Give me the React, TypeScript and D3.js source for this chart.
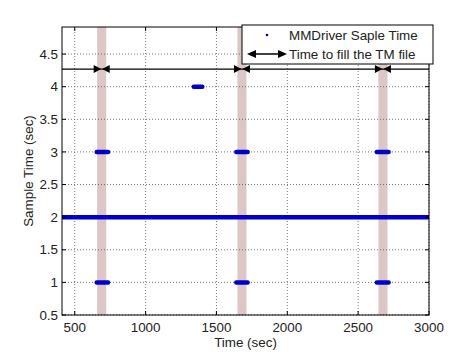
import * as d3 from "d3";

// sample-time runs: each run is a dense stretch of samples at one value
const runStart = [410, 655, 655, 1640, 1640, 2632, 2632, 1340];
const runEnd = [3000, 735, 735, 1720, 1720, 2715, 2715, 1400];
const runValue = [2, 3, 1, 3, 1, 3, 1, 4];

// shaded "fill the TM file" moments
const bandCenters = [690, 1680, 2675];
const bandWidth = 64;
const arrowLevel = 4.27;

const xTicks = [500, 1000, 1500, 2000, 2500, 3000];
const yTicks = [0.5, 1, 1.5, 2, 2.5, 3, 3.5, 4, 4.5];

const W = 474;
const H = 354;
const m = { left: 62, right: 45, top: 27, bottom: 39 };
const font = "Liberation Sans, Arial, sans-serif";
const blue = "#0000c8";
const fs = 13.4;

export default function App() {
  const x = d3.scaleLinear().domain([410, 3000]).range([m.left, W - m.right]);
  const y = d3.scaleLinear().domain([0.5, 4.915]).range([H - m.bottom, m.top]);
  const [x0, x1] = x.range();
  const [y0, y1] = y.range();

  const ay = y(arrowLevel);
  const head = (tipX: number, dir: number) =>
    `M${tipX},${ay} L${tipX - dir * 7.5},${ay - 4} L${tipX - dir * 7.5},${ay + 4} Z`;

  const stops = [x.domain()[0], ...bandCenters, x.domain()[1]];
  const line = d3.line<[number, number]>();

  return (
    <svg
      width={W}
      height={H}
      style={{ position: "absolute", left: 0, top: 0, background: "#fff" }}
      fontFamily={font}
    >
      {/* bands */}
      {bandCenters.map((c, i) => (
        <rect
          key={i}
          x={x(c - bandWidth / 2)}
          y={y1}
          width={x(c + bandWidth / 2) - x(c - bandWidth / 2)}
          height={y0 - y1}
          fill="#dcc6c6"
        />
      ))}

      {/* grid */}
      {xTicks.map((t) => (
        <line key={"gx" + t} x1={x(t)} x2={x(t)} y1={y0} y2={y1} stroke="#555" strokeWidth={0.8} strokeDasharray="1,2" />
      ))}
      {yTicks.map((t) => (
        <line key={"gy" + t} x1={x0} x2={x1} y1={y(t)} y2={y(t)} stroke="#555" strokeWidth={0.8} strokeDasharray="1,2" />
      ))}

      {/* samples */}
      {runValue.map((v, i) => (
        <path
          key={"r" + i}
          d={line([[x(runStart[i]), y(v)], [x(runEnd[i]), y(v)]])!}
          stroke={blue}
          strokeWidth={4.5}
          strokeLinecap={i === 0 ? "butt" : "round"}
          fill="none"
        />
      ))}

      {/* arrows */}
      {stops.slice(0, -1).map((s, i) => (
        <line key={"a" + i} x1={x(s)} x2={x(stops[i + 1])} y1={ay} y2={ay} stroke="#000" strokeWidth={1.3} />
      ))}
      {bandCenters.map((c, i) => (
        <g key={"h" + i}>
          <path d={head(x(c) - 0.5, 1)} fill="#000" />
          <path d={head(x(c) + 0.5, -1)} fill="#000" />
        </g>
      ))}

      {/* ticks */}
      {xTicks.map((t) => (
        <g key={"tx" + t}>
          <line x1={x(t)} x2={x(t)} y1={y0} y2={y0 - 4} stroke="#000" />
          <line x1={x(t)} x2={x(t)} y1={y1} y2={y1 + 4} stroke="#000" />
          <text x={x(t)} y={y0 + 17} textAnchor="middle" fontSize={fs} fill="#222">
            {t}
          </text>
        </g>
      ))}
      {yTicks.map((t) => (
        <g key={"ty" + t}>
          <line x1={x0} x2={x0 + 4} y1={y(t)} y2={y(t)} stroke="#000" />
          <line x1={x1} x2={x1 - 4} y1={y(t)} y2={y(t)} stroke="#000" />
          <text x={x0 - 4} y={y(t)} dy="0.35em" textAnchor="end" fontSize={fs} fill="#222">
            {t}
          </text>
        </g>
      ))}

      <rect x={x0} y={y1} width={x1 - x0} height={y0 - y1} fill="none" stroke="#000" strokeWidth={1} />

      {/* axis labels */}
      <text x={(x0 + x1) / 2} y={H - 7} textAnchor="middle" fontSize={fs} fill="#222">
        Time (sec)
      </text>
      <text
        transform={`translate(33,${(y0 + y1) / 2}) rotate(-90)`}
        textAnchor="middle"
        fontSize={fs}
        fill="#222"
      >
        Sample Time (sec)
      </text>

      {/* legend */}
      <g>
        <rect x={242} y={25} width={191} height={39} fill="#fff" stroke="#000" strokeWidth={1} />
        <circle cx={267} cy={35} r={1.3} fill={blue} />
        <text x={289} y={40} fontSize={fs} fill="#222">
          MMDriver Saple Time
        </text>
        <line x1={250} x2={284} y1={54} y2={54} stroke="#000" strokeWidth={1.3} />
        <path d={`M247,54 L256,50 L256,58 Z`} fill="#000" />
        <path d={`M287,54 L278,50 L278,58 Z`} fill="#000" />
        <text x={289} y={58.5} fontSize={fs} fill="#222">
          Time to fill the TM file
        </text>
      </g>
    </svg>
  );
}
